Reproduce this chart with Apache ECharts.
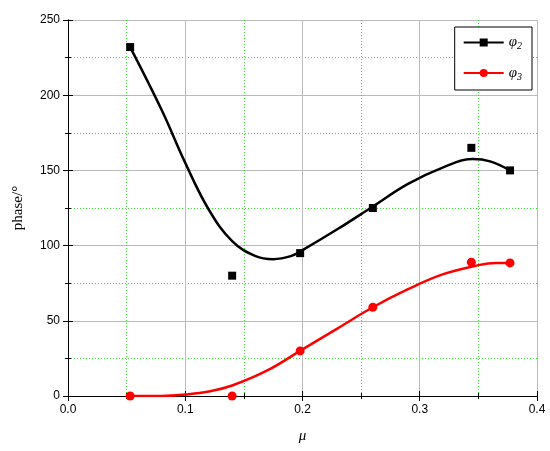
<!DOCTYPE html><html><head><meta charset="utf-8"><script src="https://cdn.jsdelivr.net/npm/echarts@6/dist/echarts.min.js"></script></head><body style="margin:0"><div id="c" style="width:550px;height:451px"></div><script>
const phi2Points=[[0.053,232],[0.14,80],[0.198,95],[0.26,125],[0.344,165],[0.377,150]];
const phi3Points=[[0.053,0],[0.14,0],[0.198,30],[0.26,59],[0.344,89],[0.377,88.5]];
const phi2Curve=[[0.053,232],[0.08,190],[0.1,155],[0.12,124],[0.14,103],[0.16,93],[0.175,91],[0.19,93],[0.2,97],[0.23,111],[0.26,126],[0.29,141],[0.32,152],[0.345,157.5],[0.36,156],[0.377,150]];
const phi3Curve=[[0.053,0],[0.08,0],[0.1,1],[0.12,3],[0.14,7],[0.17,17],[0.2,31],[0.23,45],[0.26,59],[0.29,71],[0.32,81],[0.35,87],[0.365,88.5],[0.377,88.5]];
const xTicks=[0,0.1,0.2,0.3,0.4];
const ch=echarts.init(document.getElementById('c'));
const minor={show:true,splitNumber:2,lineStyle:{color:'#33dd33',type:[1,2],width:1}};
const axBase={axisLine:{lineStyle:{color:'#000',width:1}},axisTick:{inside:true,length:5,lineStyle:{color:'#000'}},minorTick:{show:true,splitNumber:2,length:3,lineStyle:{color:'#000'}}};
ch.setOption({
 grid:{left:68,right:13,top:20,bottom:55},
 xAxis:[{type:'value',min:0,max:0.4,interval:0.1,...axBase,
   axisLabel:{color:'#000',fontFamily:'Liberation Sans',fontSize:12,formatter:v=>v.toFixed(1)},
   splitLine:{lineStyle:{color:'#bbb'}},minorSplitLine:minor,
   name:'μ',nameLocation:'middle',nameGap:33,nameTextStyle:{fontFamily:'Liberation Serif',fontStyle:'italic',fontSize:15,color:'#000'}},
  {type:'value',min:0,max:0.4,interval:0.1,position:'top',...axBase,axisLabel:{show:false},splitLine:{show:false}}],
 yAxis:[{type:'value',min:0,max:250,interval:50,...axBase,
   axisLabel:{color:'#000',fontFamily:'Liberation Sans',fontSize:12},
   splitLine:{lineStyle:{color:'#bbb'}},minorSplitLine:minor,
   name:'phase/°',nameLocation:'middle',nameGap:42,nameTextStyle:{fontFamily:'Liberation Serif',fontSize:15,color:'#000'}},
  {type:'value',min:0,max:250,interval:50,position:'right',...axBase,axisLabel:{show:false},splitLine:{show:false}}],
 legend:{right:18,top:27,orient:'vertical',itemWidth:40,itemHeight:10,itemGap:14,padding:[8,10,8,8],
   borderColor:'#000',borderWidth:1,backgroundColor:'#fff',
   data:['p2','p3'],
   formatter:n=>n==='p2'?'{i|φ}{s|2}':'{i|φ}{s|3}',
   textStyle:{color:'#000',rich:{i:{color:'#000',fontFamily:'Liberation Serif',fontStyle:'italic',fontSize:15},s:{color:'#000',fontFamily:'Liberation Serif',fontStyle:'italic',fontSize:10,verticalAlign:'bottom',padding:[8,0,0,0]}}}},
 series:[
  {name:'p2',type:'line',data:phi2Curve,smooth:0.4,showSymbol:false,symbol:'rect',symbolSize:8,color:'#000',lineStyle:{width:2.5,color:'#000'}},
  {name:'p3',type:'line',data:phi3Curve,smooth:0.4,showSymbol:false,symbol:'circle',symbolSize:8,color:'#f00',lineStyle:{width:2.5,color:'#f00'}},
  {type:'scatter',data:phi2Points,symbol:'rect',symbolSize:8,itemStyle:{color:'#000',opacity:1}},
  {type:'scatter',data:phi3Points,symbol:'circle',symbolSize:9,itemStyle:{color:'#f00',opacity:1}}
 ]});
</script></body></html>
